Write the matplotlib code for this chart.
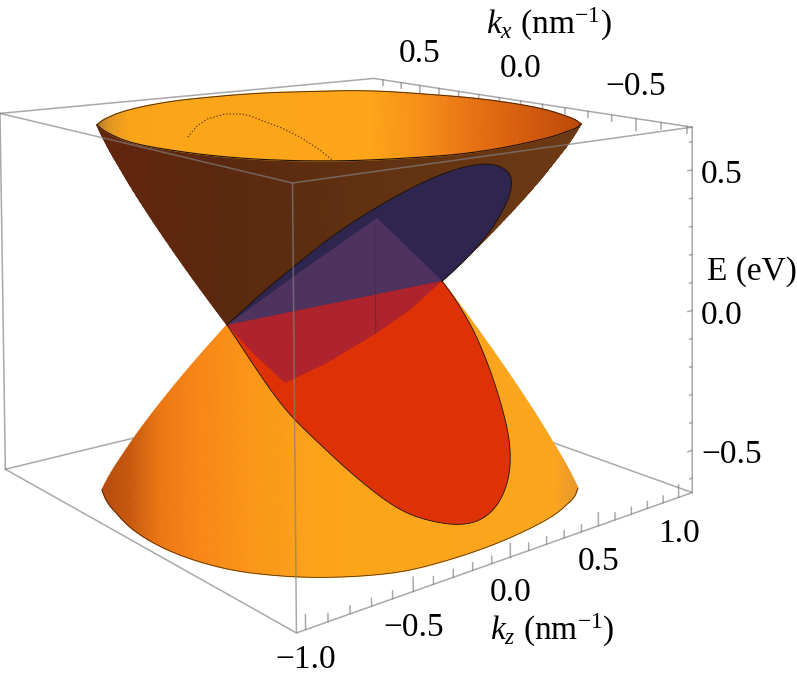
import numpy as np
import matplotlib
matplotlib.use('Agg')
import matplotlib.pyplot as plt
from matplotlib.collections import PolyCollection
from matplotlib.patches import Polygon

plt.rcParams['font.family'] = ['Liberation Serif']
plt.rcParams['font.size'] = 24
plt.rcParams['mathtext.fontset'] = 'custom'
plt.rcParams['mathtext.rm'] = 'Liberation Serif'
plt.rcParams['mathtext.it'] = 'Liberation Serif:italic'

# Plot box (nm^-1, nm^-1, eV)
kz_lim = (-1.04, 1.09)
kx_lim = (-0.72, 0.75)
E_top = 0.652

# Camera matrix: (kz, kx, E, 1) -> pixels
camera = np.array([[211.00276, -158.99967, -4.15229, 341.43912],
                   [-9.73409, -21.26131, -279.47582, 303.03219],
                   [0.08821, 0.14619, -0.00591, 1.0]])

# Band edges at the top and bottom of the box
top_far_kz = [-0.881, -0.726, -0.574, -0.313, -0.115, 0.069, 0.263, 0.413, 0.632,
              0.762, 0.846, 0.926, 0.979, 1.011, 0.990, 0.925, 0.776]
top_far_kx = [0.369, 0.491, 0.572, 0.663, 0.681, 0.678, 0.673, 0.628, 0.548,
              0.514, 0.373, 0.268, 0.146, 0.008, -0.157, -0.319, -0.476]
top_near_kz = [-0.881, -0.979, -1.023, -1.005, -0.969, -0.923, -0.848, -0.777, -0.630,
               -0.519, -0.389, -0.260, -0.113, 0.092, 0.321, 0.573, 0.776]
top_near_kx = [0.369, 0.183, 0.029, -0.087, -0.208, -0.313, -0.392, -0.468, -0.546,
               -0.587, -0.617, -0.646, -0.664, -0.648, -0.617, -0.565, -0.476]
low_near_kz = [-0.844, -0.946, -0.997, -0.984, -0.941, -0.862, -0.751, -0.661,
               -0.499, -0.396, -0.249, -0.043, 0.149, 0.383, 0.578, 0.749]
low_near_kx = [0.410, 0.231, 0.031, -0.120, -0.266, -0.370, -0.459, -0.518,
               -0.587, -0.612, -0.629, -0.633, -0.625, -0.597, -0.558, -0.477]

# Dirac points, and how the band opens away from them
node_kz = [-0.589, 0.607]
node_kx = [0.010, 0.017]
profile_s = [0.0, 0.15, 0.30, 0.60, 0.85, 1.0]
profile_E = [0.0, 0.13, 0.26, 0.54, 0.80, 1.0]

# Surface state patches
blue_kz = [-0.601, -0.354, -0.173, -0.027, 0.121, 0.281, 0.427, 0.549,
           0.674, 0.750, 0.782, 0.774, 0.715, 0.641, 0.579]
blue_kx = [-0.002, -0.106, -0.160, -0.192, -0.220, -0.241, -0.250, -0.248,
           -0.232, -0.204, -0.167, -0.114, -0.065, -0.028, -0.004]
blue_E = [0.005, 0.212, 0.320, 0.383, 0.440, 0.482, 0.499, 0.495,
          0.464, 0.408, 0.335, 0.228, 0.130, 0.055, 0.008]
red_kz = [-0.597, -0.550, -0.494, -0.441, -0.340, -0.189, -0.063, 0.087, 0.216,
          0.342, 0.464, 0.558, 0.605, 0.631, 0.662, 0.638, 0.589]
red_kx = [0.002, -0.063, -0.136, -0.179, -0.239, -0.331, -0.371, -0.399, -0.412,
          -0.404, -0.376, -0.331, -0.281, -0.228, -0.130, -0.057, 0.003]
red_E = [0.003, -0.106, -0.231, -0.305, -0.405, -0.563, -0.631, -0.679, -0.701,
         -0.687, -0.639, -0.563, -0.477, -0.387, -0.221, -0.097, 0.005]
film_kz = [-0.548, -0.279, 0.016, 0.323, 0.648, 0.535, 0.393, 0.165, -0.039, -0.324]
film_kx = [0.051, -0.051, -0.156, -0.057, 0.049, 0.115, 0.162, 0.219, 0.250, 0.142]
film_E = [-0.016, 0.157, 0.334, 0.166, -0.012, -0.124, -0.204, -0.300, -0.352, -0.170]

# Stray mesh line on the inside of the upper band
arc_kz = [-0.536, -0.329, -0.173, -0.016, 0.047, 0.039, -0.065, -0.157, -0.299, -0.410]
arc_kx = [0.255, 0.420, 0.524, 0.582, 0.549, 0.497, 0.229, 0.055, -0.168, -0.320]
arc_E = [0.6] * 10

# Ticks
kz_major = [-1.0, -0.5, 0.0, 0.5, 1.0]
kx_major = [-0.5, 0.0, 0.5]
E_major = [-0.5, 0.0, 0.5]
kz_minor = np.arange(-10, 11) / 10
kx_minor = np.arange(-7, 8) / 10
E_minor = np.arange(-6, 7) / 10


def project(kz, kx, E):
    pts = np.stack([kz, kx, E, np.ones_like(kz)], axis=-1) @ camera.T
    return pts[..., 0] / pts[..., 2], pts[..., 1] / pts[..., 2]


def smooth(*cols, n=8):
    # Catmull-Rom through the given points, then a short running mean
    p = np.array(cols, float).T
    p = np.vstack([p[0], p, p[-1]])
    out = []
    for i in range(1, len(p) - 2):
        for t in np.linspace(0, 1, n, endpoint=False):
            out.append(0.5 * (2 * p[i] + (p[i + 1] - p[i - 1]) * t
                              + (2 * p[i - 1] - 5 * p[i] + 4 * p[i + 1] - p[i + 2]) * t**2
                              + (3 * p[i] - p[i - 1] - 3 * p[i + 1] + p[i + 2]) * t**3))
    out.append(p[-2])
    out = np.array(out)
    result = out.copy()
    for i in range(1, len(out) - 1):
        half = min(n, i, len(out) - 1 - i)
        result[i] = out[i - half:i + half + 1].mean(axis=0)
    return result.T


def shade(ax, kz, kx, E, stops, zorder):
    # quads of a (rows, cols) grid, coloured across the screen
    X, Y = project(kz, kx, E)
    corners = np.stack([np.stack([X[:-1, :-1], Y[:-1, :-1]], -1), np.stack([X[1:, :-1], Y[1:, :-1]], -1),
                        np.stack([X[1:, 1:], Y[1:, 1:]], -1), np.stack([X[:-1, 1:], Y[:-1, 1:]], -1)], axis=2)
    corners = corners.reshape(-1, 4, 2)
    cx = corners[:, :, 0].mean(axis=1)
    xs = [s[0] for s in stops]
    rgb = np.array([[np.interp(c, xs, [s[ch + 1] for s in stops]) for ch in range(3)] for c in cx]) / 255
    ax.add_collection(PolyCollection(corners, facecolors=rgb, edgecolors=rgb, linewidths=1.0, zorder=zorder))


def band(ax, kz, kx, sign, stops, zorder):
    rim_z, rim_x = smooth(kz, kx)
    t = np.linspace(0, 1, len(rim_z))
    base_z = node_kz[0] + (node_kz[1] - node_kz[0]) * t
    base_x = node_kx[0] + (node_kx[1] - node_kx[0]) * t
    s = np.linspace(0, 1, 40)[:, None]
    prof_s, prof_E = smooth(profile_s, profile_E)
    e = np.interp(s[:, 0], prof_s, prof_E)[:, None]
    grid_z = base_z + s * (rim_z - base_z)
    grid_x = base_x + s * (rim_x - base_x)
    grid_E = sign * E_top * e * np.ones_like(grid_z)
    shade(ax, grid_z, grid_x, grid_E, stops, zorder)


def line3d(ax, kz, kx, E, **kw):
    X, Y = project(np.asarray(kz, float), np.asarray(kx, float), np.asarray(E, float))
    return ax.plot(X, Y, solid_capstyle='round', **kw)[0]


fig = plt.figure(figsize=(7.97, 6.77), dpi=100)
ax = fig.add_axes([0, 0, 1, 1])
ax.set_xlim(0, 797)
ax.set_ylim(677, 0)
ax.axis('off')

z0, z1 = kz_lim
x0, x1 = kx_lim
box_style = dict(color='#808080', lw=1.1, alpha=0.68)

# back of the box
line3d(ax, [z0, z1, z1], [x1, x1, x0], [E_top] * 3, zorder=1, **box_style)
line3d(ax, [z0, z1, z1], [x1, x1, x0], [-E_top] * 3, zorder=1, **box_style)
line3d(ax, [z0, z0], [x1, x1], [E_top, -E_top], zorder=1, **box_style)
line3d(ax, [z1, z1], [x0, x0], [E_top, -E_top], zorder=1, **box_style)

# ticks on the box edges
for v in kx_minor:
    size = 0.045 if v in kx_major else 0.025
    line3d(ax, [z1, z1], [v, v], [E_top, E_top - size], zorder=1, **box_style)
for v in kz_minor:
    size = 0.045 if v in kz_major else 0.025
    line3d(ax, [v, v], [x0, x0], [-E_top, -E_top + size], zorder=1, **box_style)
for v in E_minor:
    size = 0.03 if v in E_major else 0.018
    line3d(ax, [z1, z1 - size], [x0, x0], [v, v], zorder=1, **box_style)

# lower band
low_stops = [(102, 180, 75, 15), (130, 200, 90, 15), (160, 235, 120, 20), (200, 248, 135, 25),
             (250, 250, 150, 25), (297, 252, 160, 25), (350, 253, 165, 25), (555, 252, 165, 30),
             (578, 232, 152, 45)]
band(ax, low_near_kz, low_near_kx, -1, low_stops, 2)

# upper band, outside then the open top
up_stops = [(100, 100, 38, 14), (220, 90, 40, 14), (350, 96, 48, 17), (580, 108, 58, 20)]
band(ax, top_near_kz, top_near_kx, 1, up_stops, 3)

far_z, far_x = smooth(top_far_kz, top_far_kx)
near_z, near_x = smooth(top_near_kz, top_near_kx)
w = np.linspace(0, 1, 6)[:, None]
inner_stops = [(97, 180, 120, 50), (110, 225, 150, 35), (130, 250, 165, 25), (370, 255, 165, 25),
               (430, 245, 140, 25), (470, 232, 115, 20), (520, 215, 95, 15), (575, 190, 75, 10)]
cap_z = far_z + w * (near_z - far_z)
cap_x = far_x + w * (near_x - far_x)
shade(ax, cap_z, cap_x, E_top * np.ones_like(cap_z), inner_stops, 4)
line3d(ax, arc_kz, arc_kx, arc_E, color='#5a3a10', lw=0.9, ls=':', zorder=5)

# surface state patches
outline = '#1e130c'
X, Y = project(*[np.array(c) for c in smooth(red_kz, red_kx, red_E)])
ax.add_patch(Polygon(np.c_[X, Y], closed=True, fc='#de3206', ec='none', zorder=6))
ax.plot(X, Y, color=outline, lw=0.6, zorder=9)
X, Y = project(*[np.array(c) for c in smooth(blue_kz, blue_kx, blue_E)])
ax.add_patch(Polygon(np.c_[X, Y], closed=True, fc='#2f2650', ec='none', zorder=6))
ax.plot(X, Y, color=outline, lw=0.7, zorder=9)

# flat band between the Dirac points, seen over either patch
X, Y = project(np.array(film_kz), np.array(film_kx), np.array(film_E))
upper = np.c_[X, Y][:5]
lower = np.vstack([np.c_[X, Y][4:], np.c_[X, Y][:1]])
ax.add_patch(Polygon(upper, closed=True, fc='#50325f', ec='none', zorder=7))
ax.add_patch(Polygon(lower, closed=True, fc='#af232d', ec='none', zorder=7))
film = Polygon(np.c_[X, Y], closed=True, fill=False, ec='none', zorder=7)
ax.add_patch(film)
back_edge = line3d(ax, [z1, z1], [x1, x1], [E_top, -E_top], color='#40304a', lw=0.8, alpha=0.6, zorder=7)
back_edge.set_clip_path(film)

# rim outlines
line3d(ax, near_z, near_x, [E_top] * len(near_z), color=outline, lw=0.8, zorder=9)
line3d(ax, far_z, far_x, [E_top] * len(far_z), color='#3a2410', lw=0.6, zorder=9)
low_z, low_x = smooth(low_near_kz, low_near_kx)
line3d(ax, low_z, low_x, [-E_top] * len(low_z), color='#3a2410', lw=0.5, zorder=9)

# front of the box
line3d(ax, [z0, z0, z1], [x1, x0, x0], [E_top] * 3, zorder=10, **box_style)
line3d(ax, [z0, z0, z1], [x1, x0, x0], [-E_top] * 3, zorder=10, **box_style)
line3d(ax, [z0, z0], [x0, x0], [E_top, -E_top], zorder=10, **box_style)


def label(v):
    return f'{v:.1f}'.replace('-', '\u2212')


for v in kx_major:
    X, Y = project(np.array(z1), np.array(v), np.array(E_top))
    ax.text(X, Y - 32, label(v), ha='center', va='center', zorder=11)
for v in kz_major:
    X, Y = project(np.array(v), np.array(x0), np.array(-E_top))
    # keep the last label inside the figure
    ax.text(X, min(Y + 36, 660), label(v), ha='center', va='center', zorder=11)
for v in E_major:
    X, Y = project(np.array(z1), np.array(x0), np.array(v))
    ax.text(X + 9, Y + 5, label(v), ha='left', va='center', zorder=11)

ax.text(549, 24, r'$k_x$ (nm$^{-1}$)', ha='center', va='center', zorder=11)
ax.text(552, 630, r'$k_z$ (nm$^{-1}$)', ha='center', va='center', zorder=11)
ax.text(752, 272, 'E (eV)', ha='center', va='center', zorder=11)

fig.savefig('out.png', dpi=100)
